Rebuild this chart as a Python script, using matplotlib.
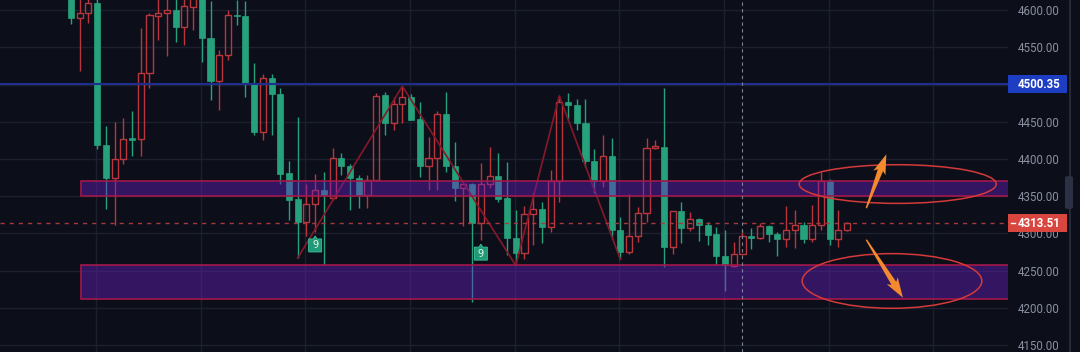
import numpy as np
import matplotlib
matplotlib.use("Agg")
import matplotlib.pyplot as plt
import matplotlib.patches as mpatches
import matplotlib.transforms as mtransforms
from matplotlib.ticker import FormatStrFormatter

# candle data (red hollow = up, green filled = down)
opens = [4615, 4589, 4597, 4610, 4419, 4374, 4400, 4428, 4427, 4516,
	4593, 4597, 4601, 4577, 4605, 4616, 4563, 4505, 4540, 4594,
	4593, 4502, 4436, 4509, 4488, 4381, 4346, 4315, 4339, 4359,
	4347, 4401, 4391, 4375, 4352, 4372, 4486, 4449, 4474, 4484,
	4454, 4390, 4402, 4461, 4391, 4361, 4366, 4314, 4366, 4377,
	4347, 4294, 4274, 4326, 4333, 4309, 4370, 4477, 4473, 4449,
	4397, 4370, 4404, 4304, 4275, 4296, 4327, 4415, 4416, 4282,
	4330, 4307, 4320, 4312, 4299, 4270, 4256, 4273, 4297, 4294,
	4310, 4299, 4293, 4305, 4311, 4292, 4311, 4370, 4292, 4304]
highs = [4625, 4615, 4618, 4616, 4445, 4450, 4455, 4465, 4576, 4596,
	4615, 4616, 4616, 4618, 4620, 4622, 4612, 4547, 4600, 4614,
	4612, 4529, 4514, 4515, 4496, 4398, 4457, 4366, 4380, 4383,
	4415, 4408, 4393, 4378, 4378, 4489, 4490, 4483, 4498, 4487,
	4477, 4430, 4464, 4490, 4423, 4368, 4368, 4395, 4416, 4408,
	4396, 4332, 4337, 4355, 4342, 4385, 4485, 4489, 4481, 4481,
	4414, 4433, 4428, 4322, 4353, 4335, 4428, 4426, 4495, 4330,
	4342, 4329, 4321, 4315, 4309, 4305, 4288, 4304, 4307, 4314,
	4312, 4302, 4337, 4331, 4315, 4338, 4383, 4373, 4332, 4315]
lows = [4581, 4519, 4583, 4414, 4333, 4312, 4393, 4404, 4404, 4495,
	4560, 4538, 4558, 4554, 4574, 4530, 4480, 4466, 4533, 4580,
	4483, 4433, 4426, 4433, 4366, 4318, 4267, 4297, 4302, 4257,
	4345, 4378, 4331, 4334, 4334, 4372, 4433, 4439, 4449, 4452,
	4376, 4358, 4358, 4382, 4344, 4310, 4208, 4291, 4361, 4342,
	4271, 4257, 4266, 4284, 4287, 4302, 4342, 4453, 4439, 4389,
	4355, 4363, 4293, 4265, 4273, 4289, 4316, 4414, 4255, 4273,
	4287, 4303, 4290, 4285, 4257, 4222, 4255, 4271, 4279, 4293,
	4289, 4270, 4282, 4280, 4287, 4289, 4305, 4284, 4282, 4303]
closes = [4589, 4597, 4610, 4419, 4374, 4400, 4427, 4426, 4516, 4594,
	4597, 4601, 4577, 4606, 4618, 4563, 4505, 4540, 4594, 4592,
	4501, 4436, 4509, 4488, 4380, 4345, 4315, 4340, 4359, 4352,
	4401, 4391, 4374, 4352, 4372, 4485, 4449, 4474, 4483, 4453,
	4390, 4402, 4461, 4391, 4361, 4366, 4314, 4366, 4377, 4346,
	4294, 4274, 4326, 4333, 4309, 4370, 4477, 4473, 4449, 4397,
	4370, 4404, 4304, 4275, 4296, 4327, 4415, 4417, 4282, 4330,
	4307, 4320, 4311, 4298, 4269, 4257, 4273, 4296, 4294, 4310,
	4299, 4293, 4305, 4311, 4292, 4311, 4370, 4292, 4305, 4313.51]

price_ticks = [4150, 4200, 4250, 4300, 4350, 4400, 4450, 4500, 4550, 4600]
upper_band = [4351, 4371]
lower_band = [4212.5, 4258]
resistance_price = 4500.35
last_price = 4313.51

# zigzag pivots (candle index, which end of the candle)
pivot_index = [26, 38, 51, 56, 63]
pivot_kind = ["low", "high", "low", "high", "low"]

# "9" count markers under these candles
nine_index = [28, 47]

bg = "#0c0f1a"
grid_color = "#1b1f2e"
green = "#25a27b"
red = "#bb363c"
orange = "#f38a2e"


def px(ax, x, y):
	return ax.transData.transform((x, y))
#end_def


def tapered_arrow(ax, x0, y0, x1, y1):

	p0 = px(ax, x0, y0)
	p1 = px(ax, x1, y1)
	d = p1 - p0
	u = d / np.hypot(d[0], d[1])
	n = np.array([-u[1], u[0]])
	base = p1 - u * 17
	pts = [p0 + n * 0.7, base + n * 2.8, base - u * 3 + n * 6.5, p1,
		base - u * 3 - n * 6.5, base - n * 2.8, p0 - n * 0.7]
	poly = mpatches.Polygon(pts, closed = True, facecolor = orange, edgecolor = "none",
		transform = mtransforms.IdentityTransform(), zorder = 8)
	ax.add_patch(poly)

#end_def


def nine_badge(ax, i, low):

	p = px(ax, i, low)
	cx = p[0]
	top = p[1] - 5
	pts = [(cx - 6.5, top - 2), (cx - 2, top - 2), (cx, top + 1), (cx + 2, top - 2),
		(cx + 6.5, top - 2), (cx + 6.5, top - 15), (cx - 6.5, top - 15)]
	poly = mpatches.Polygon(pts, closed = True, facecolor = "#1f9a76", edgecolor = "#3cc39a",
		lw = 0.6, transform = mtransforms.IdentityTransform(), zorder = 7)
	ax.add_patch(poly)
	ax.text(cx, top - 8.5, "9", color = "#e6eee9", fontsize = 8, ha = "center", va = "center",
		transform = mtransforms.IdentityTransform(), zorder = 8)

#end_def


def main():

	plt.rcParams["font.family"] = ["Roboto", "DejaVu Sans"]

	n = len(opens)
	x_left = -8.14
	x_right = 107.45

	fig = plt.figure(figsize = (10.8, 3.52), dpi = 100, facecolor = bg)
	ax = fig.add_axes([0, 0, 1008 / 1080, 1])
	ax.set_facecolor(bg)
	ax.set_xlim(x_left, x_right)
	ax.set_ylim(4140.6, 4613.85)

	for s in ax.spines.values():
		s.set_visible(False)
	#end_for

	ax.set_xticks(np.arange(2.87, x_right, 12))
	ax.set_yticks(price_ticks)
	ax.yaxis.tick_right()
	ax.yaxis.set_major_formatter(FormatStrFormatter("%.2f"))
	ax.tick_params(axis = "x", length = 0, labelbottom = False)
	ax.tick_params(axis = "y", length = 0, pad = 7, labelcolor = "#8a8fa0", labelsize = 8.3)
	ax.grid(True, color = grid_color, lw = 1.0, zorder = 0)
	ax.set_axisbelow(True)

	# candles
	w = 0.7
	for i in range(n):
		o = opens[i]
		h = highs[i]
		l = lows[i]
		c = closes[i]
		if (c >= o):
			top = max(c, o + 0.8)
			ax.vlines(i, top, h, color = red, lw = 1.0, zorder = 2)
			ax.vlines(i, l, o, color = red, lw = 1.0, zorder = 2)
			ax.add_patch(mpatches.Rectangle((i - w / 2, o), w, top - o, facecolor = "none",
				edgecolor = red, lw = 1.0, zorder = 2))
		else:
			ax.vlines(i, l, h, color = green, lw = 1.0, zorder = 2)
			ax.add_patch(mpatches.Rectangle((i - w / 2, c), w, max(o - c, 1.0), facecolor = green,
				edgecolor = green, lw = 0.5, zorder = 2))
		#end_if
	#end_for

	# zigzag
	zz_y = []
	for i, k in zip(pivot_index, pivot_kind):
		if (k == "low"):
			zz_y.append(lows[i])
		else:
			zz_y.append(highs[i])
		#end_if
	#end_for
	ax.plot(pivot_index, zz_y, color = "#861829", lw = 1.2, zorder = 3)

	# zones
	for band in [upper_band, lower_band]:
		ax.add_patch(mpatches.Rectangle((1.1, band[0]), x_right - 1.1 + 1, band[1] - band[0],
			facecolor = "#6b1fc4", alpha = 0.42, edgecolor = "none", zorder = 4))
		ax.add_patch(mpatches.Rectangle((1.1, band[0]), x_right - 1.1 + 1, band[1] - band[0],
			facecolor = "none", edgecolor = "#a3184a", lw = 1.2, zorder = 4))
	#end_for

	# lines
	ax.axhline(resistance_price, color = "#1f2e8e", lw = 1.5, zorder = 5)
	ax.axhline(last_price, color = "#a5383a", lw = 1.0, dashes = (3, 3.6), zorder = 5)
	ax.axvline(77, color = "#7d8496", lw = 0.8, dashes = (3, 3), zorder = 5)

	# circled areas and arrows
	ax.add_patch(mpatches.Ellipse((94.8, 4366.4), 22.6, 52, facecolor = "none",
		edgecolor = "#d53a3a", lw = 1.1, zorder = 6))
	ax.add_patch(mpatches.Ellipse((94.15, 4236.1), 20.6, 73.5, facecolor = "none",
		edgecolor = "#d53a3a", lw = 1.1, zorder = 6))
	tapered_arrow(ax, 91.2, 4334, 93.5, 4406.5)
	tapered_arrow(ax, 91.2, 4291.6, 95.4, 4213.6)

	for i in nine_index:
		nine_badge(ax, i, lows[i])
	#end_for

	# price tags on the axis
	trans = mtransforms.blended_transform_factory(ax.transAxes, ax.transData)
	tag_w = 59 / 1008
	for price, color in [(resistance_price, "#1d3ec2"), (last_price, "#d8463f")]:
		ax.add_patch(mpatches.Rectangle((1.0, price - 12), tag_w, 24, transform = trans,
			facecolor = color, edgecolor = "none", clip_on = False, zorder = 9))
		ax.text(1.0 + tag_w / 2 + 0.002, price, "%.2f" % price, transform = trans, color = "white",
			fontsize = 8.3, fontweight = "bold", ha = "center", va = "center", clip_on = False, zorder = 10)
	#end_for
	ax.plot([1.003, 1.007], [last_price, last_price], transform = trans, color = "white",
		lw = 1.0, clip_on = False, zorder = 10)

	# right edge scrollbar bits
	fig.patches.append(mpatches.Rectangle((1069 / 1080, 0), 1.5 / 1080, 1, transform = fig.transFigure,
		facecolor = "#262a38", edgecolor = "none"))
	fig.patches.append(mpatches.FancyBboxPatch((1065 / 1080, (352 - 209) / 352), 8 / 1080, 33 / 352,
		boxstyle = "round,pad=0,rounding_size=0.004", transform = fig.transFigure,
		facecolor = "#2b3042", edgecolor = "none"))

	fig.savefig("out.png", dpi = 100, facecolor = bg)

	return

#end_def


main()
